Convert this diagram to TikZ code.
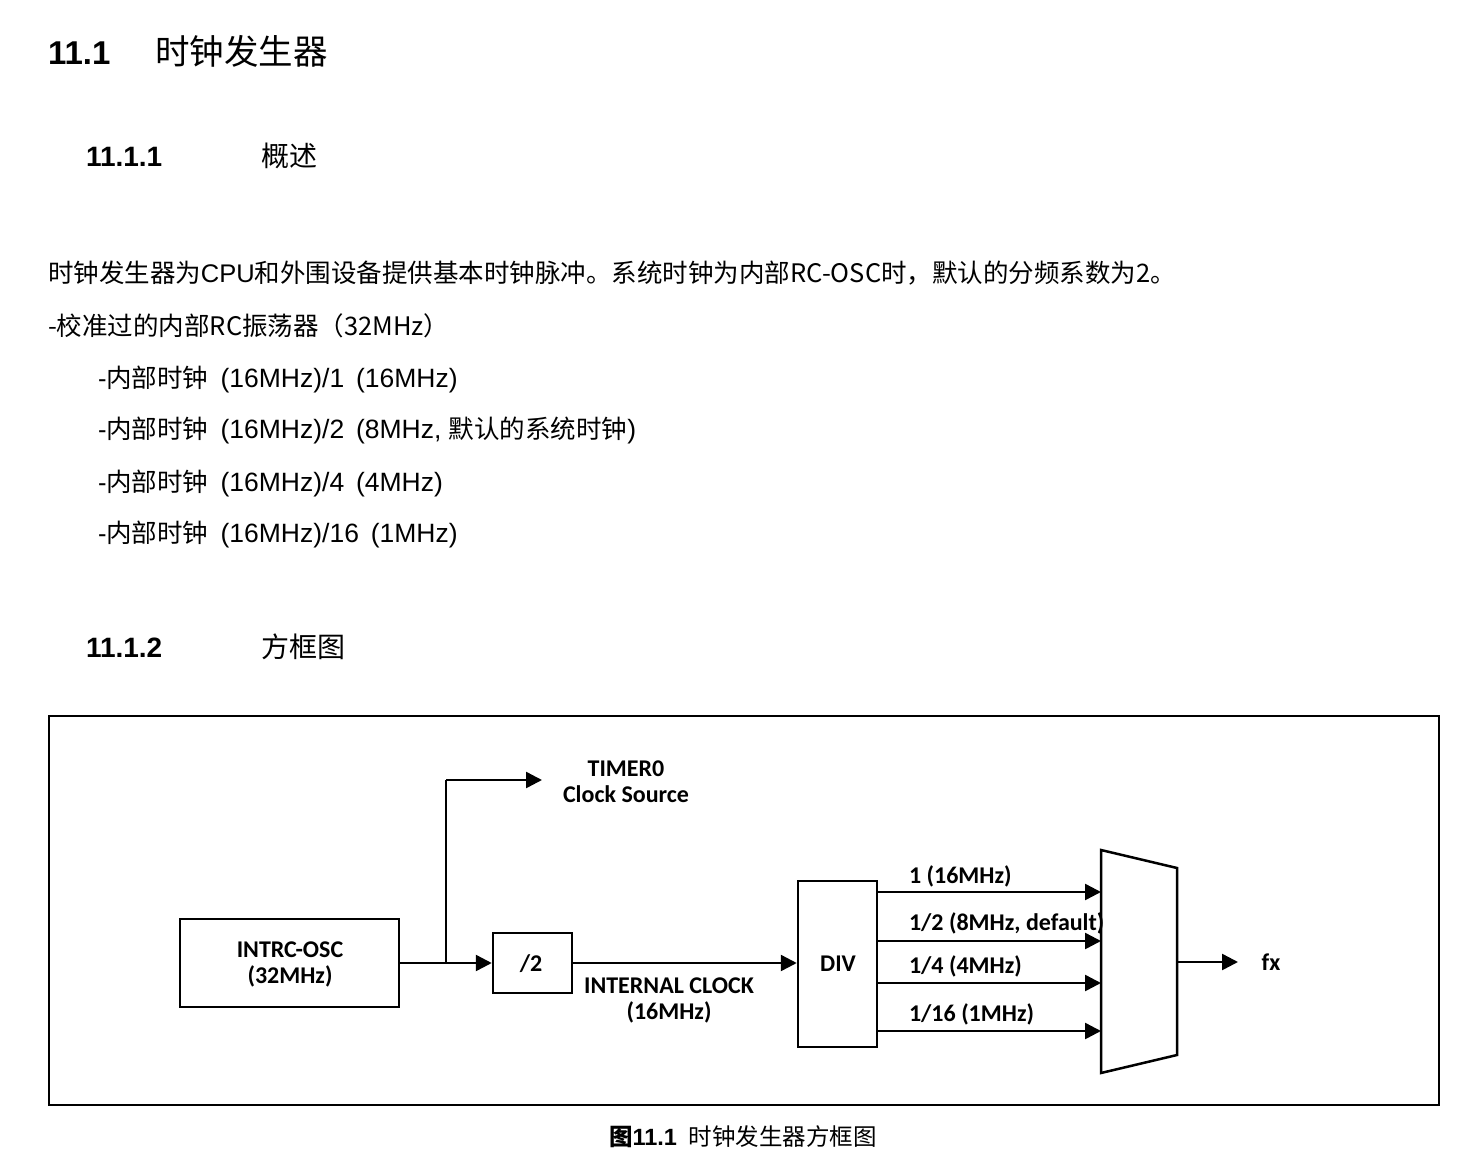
\documentclass[tikz,border=0pt]{standalone}
\usepackage{fontspec}
\setmainfont{Liberation Sans}
\newfontfamily\cjk{Noto Sans CJK SC}
\newfontfamily\dfont{Carlito}
\usetikzlibrary{arrows.meta}
\newcommand{\lat}[1]{{\fontsize{26.5}{30}\selectfont #1}}
\tikzset{
  txt/.style={anchor=base west, inner sep=0pt, outer sep=0pt},
  hone/.style={txt, font=\fontsize{33}{40}\selectfont},
  honec/.style={txt, font=\fontsize{34.5}{40}\selectfont},
  htwo/.style={txt, font=\fontsize{28}{34}\selectfont},
  body/.style={txt, font=\fontsize{25.5}{30}\selectfont},
  captxt/.style={txt, font=\fontsize{23.5}{28}\selectfont},
  dtxt/.style={inner sep=0pt, outer sep=0pt, font=\dfont\bfseries\fontsize{24}{26}\selectfont, align=center},
  blk/.style={draw, line width=2.5pt, inner sep=0pt},
  arr/.style={line width=2.5pt, -{Triangle[length=16pt,width=16pt]}},
  wire/.style={line width=2.5pt}
}
\begin{document}
\begin{tikzpicture}[x=1pt,y=-1pt]
\useasboundingbox (0,0) rectangle (1459,1169);
\fill[white] (0,0) rectangle (1459,1169);

% headings
\node[hone] (h1n) at (48,65) {\textbf{11.1}};
\node[honec] (h1t) at (155,65) {\cjk 时钟发生器};
\node[htwo] (h2n) at (86,167) {\textbf{11.1.1}};
\node[htwo] (h2t) at (261,167) {\cjk 概述};

% body text
\node[body] (p1) at (48,282) {{\cjk 时钟发生器为}CPU{\cjk 和外围设备提供基本时钟脉冲。系统时钟为内部RC-OSC时，默认的分频系数为2。}};
\node[body] (p2) at (48,335) {\cjk -校准过的内部RC振荡器（32MHz）};
\node[body] (p3) at (98,387) {-{\cjk 内部时钟}\hspace{5pt} \lat{(16MHz)/1 \,(16MHz)}};
\node[body] (p4) at (98,438) {-{\cjk 内部时钟}\hspace{5pt} \lat{(16MHz)/2 \,(8MHz, }{\cjk 默认的系统时钟}\lat{)}};
\node[body] (p5) at (98,491) {-{\cjk 内部时钟}\hspace{5pt} \lat{(16MHz)/4 \,(4MHz)}};
\node[body] (p6) at (98,542) {-{\cjk 内部时钟}\hspace{5pt} \lat{(16MHz)/16 \,(1MHz)}};

\node[htwo] (h3n) at (86,657) {\textbf{11.1.2}};
\node[htwo] (h3t) at (261,657) {\cjk 方框图};

% frame
\draw[line width=2pt] (49,716) rectangle (1439,1105);

% blocks
\node[blk, minimum width=219pt, minimum height=88pt] (osc) at (289.5,963) {};
\node[dtxt, anchor=base] (osct) at (290,983) {INTRC-OSC\\(32MHz)};
\node[blk, minimum width=79pt, minimum height=60pt] (dv2) at (532.5,963) {};
\node[dtxt, anchor=base] (dv2t) at (531,971) {/2};
\node[blk, minimum width=79pt, minimum height=166pt] (div) at (837.5,964) {};
\node[dtxt, anchor=base] (divt) at (838,971) {DIV};

% mux
\coordinate (mTL) at (1101,850);
\coordinate (mTR) at (1177,868);
\coordinate (mBR) at (1177,1055);
\coordinate (mBL) at (1101,1073);
\draw[wire, line join=miter] (mTL) -- (mTR) -- (mBR) -- (mBL) -- cycle;
\coordinate (m1) at (1101,892);
\coordinate (m2) at (1101,941);
\coordinate (m3) at (1101,983);
\coordinate (m4) at (1101,1031);
\coordinate (mo) at (1177,962);
\coordinate (fxin) at (1238,962);

% connectors
\coordinate (j) at (446,963);
\coordinate (tm) at (542,780);
\draw[arr] (osc.east) -- (dv2.west);
\draw[wire] (j) -- (446,780);
\draw[arr] (446,780) -- (tm);
\draw[arr] (dv2.east) -- (div.west |- dv2.east);
\draw[arr] (div.east |- m1) -- (m1);
\draw[arr] (div.east |- m2) -- (m2);
\draw[arr] (div.east |- m3) -- (m3);
\draw[arr] (div.east |- m4) -- (m4);
\draw[arr] (mo) -- (fxin);

% labels
\node[dtxt, anchor=base] (tmt) at (626,802) {TIMER0\\Clock Source};
\node[dtxt, anchor=base] (ict) at (669,1019) {INTERNAL CLOCK\\(16MHz)};
\node[dtxt, anchor=base west] (l1) at (909,883) {1 (16MHz)};
\node[dtxt, anchor=base west] (l2) at (909,930) {1/2 (8MHz, default)};
\node[dtxt, anchor=base west] (l3) at (909,973) {1/4 (4MHz)};
\node[dtxt, anchor=base west] (l4) at (909,1021) {1/16 (1MHz)};
\node[dtxt, anchor=base] (fx) at (1271,970) {fx};

% caption
\node[captxt] (cp) at (609,1145) {{\cjk\bfseries 图}\textbf{11.1}\hspace{12pt}{\cjk 时钟发生器方框图}};
\end{tikzpicture}
\end{document}
